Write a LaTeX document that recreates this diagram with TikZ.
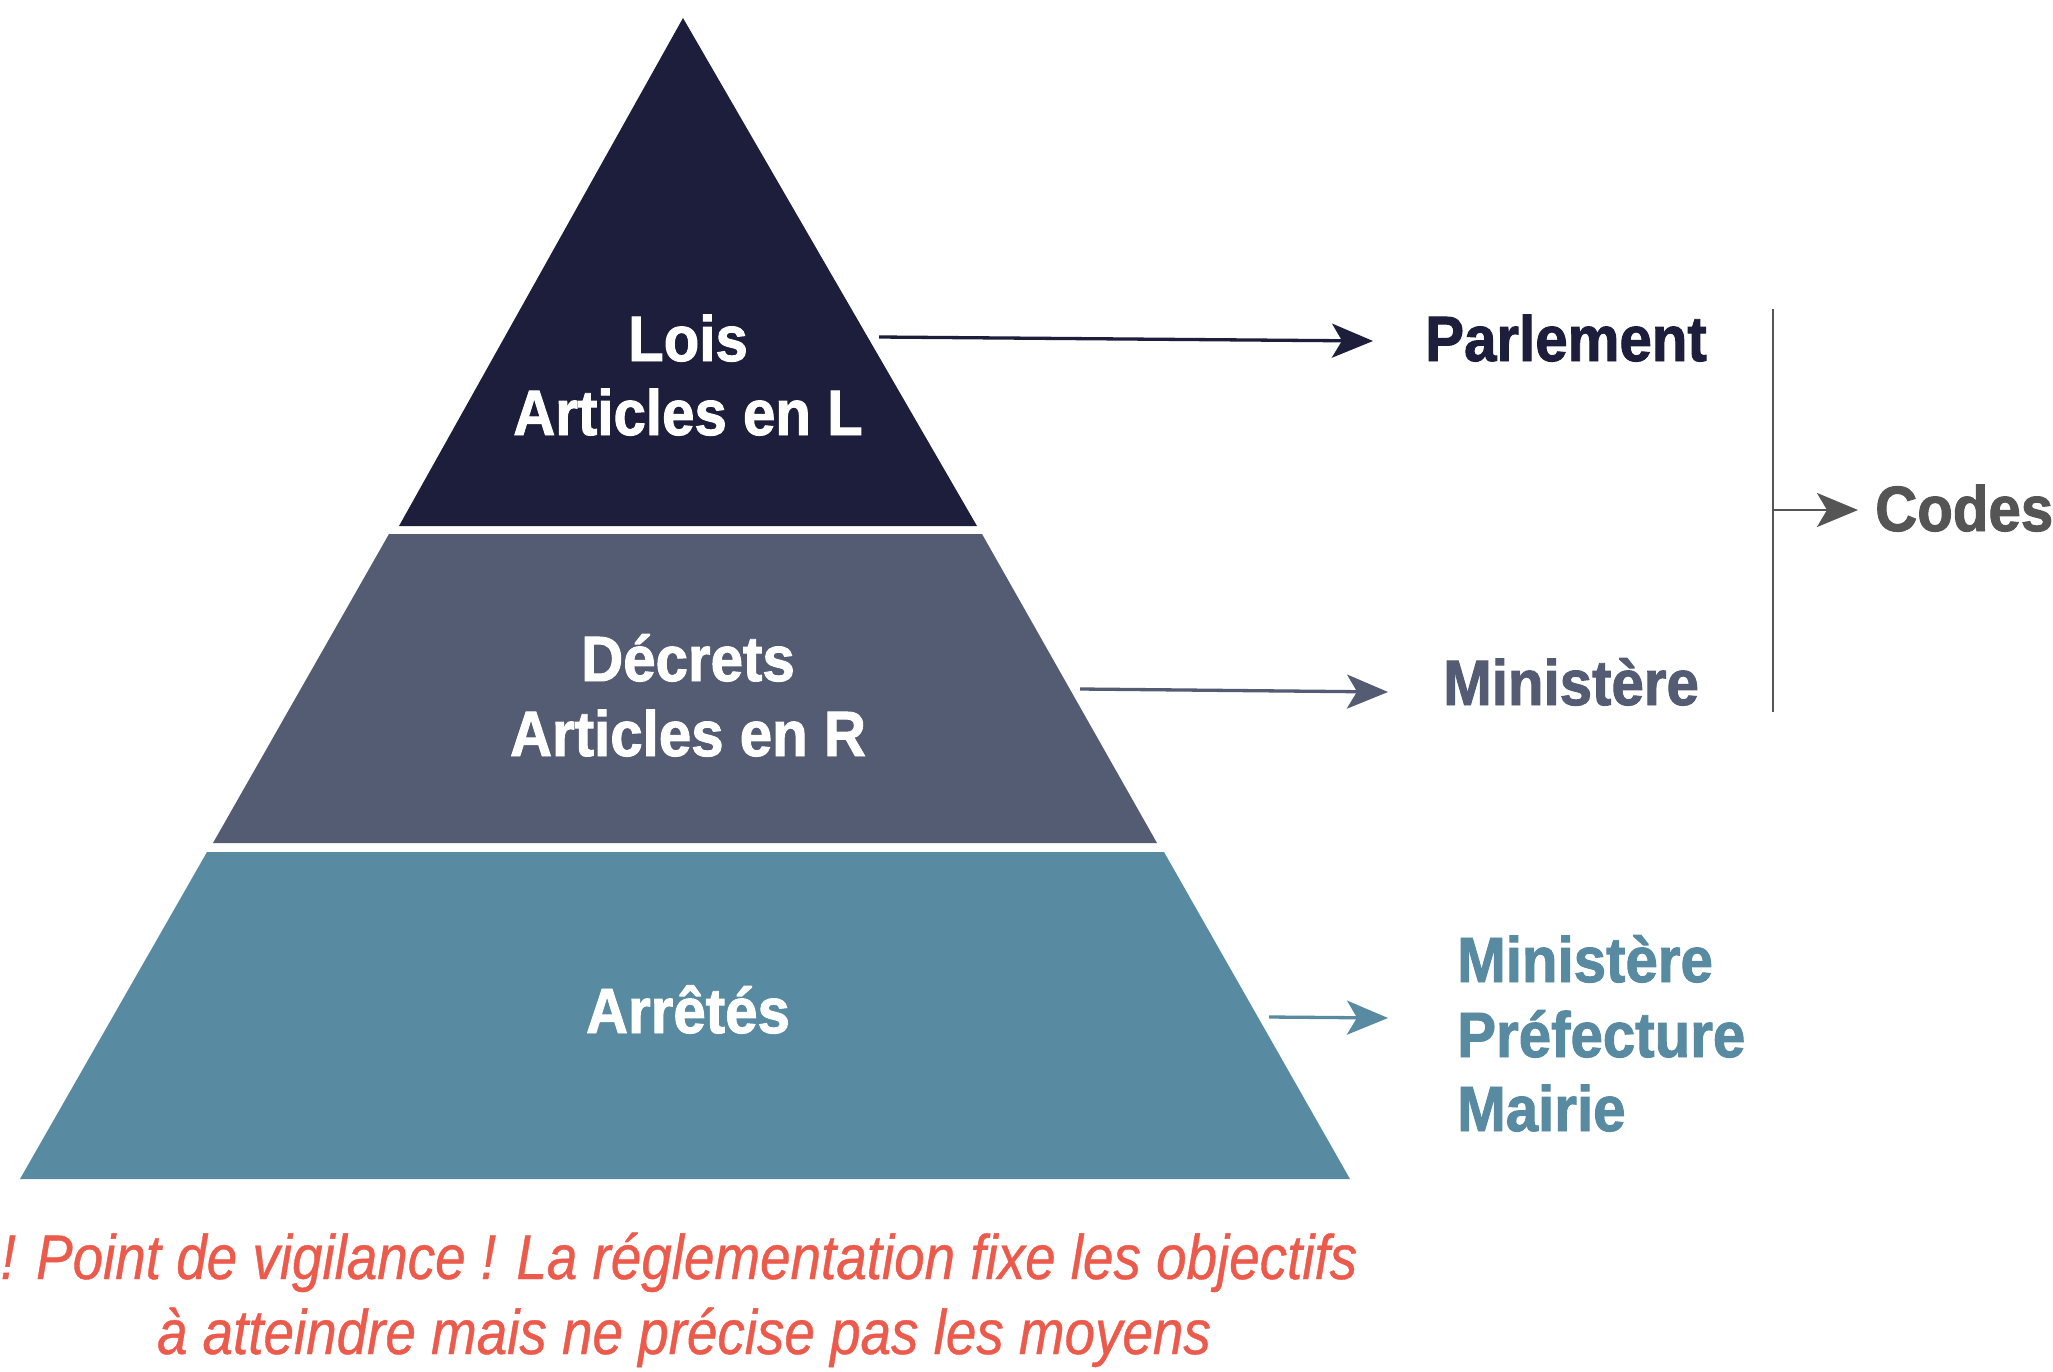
\documentclass[tikz,border=0pt]{standalone}
\usepackage{fontspec}
\setmainfont{Liberation Sans}
\newfontfamily\boldf{Liberation Sans}[FakeStretch=0.91,FakeBold=1.5]
\newfontfamily\itf{Liberation Sans}[FakeStretch=0.87,FakeBold=0.6]
\usetikzlibrary{arrows.meta}
\definecolor{navy}{HTML}{1C1E3C}
\definecolor{slate}{HTML}{545C74}
\definecolor{teal}{HTML}{588BA1}
\definecolor{warn}{HTML}{EC5A4B}
\definecolor{grayc}{HTML}{555555}
\tikzset{
  lbl/.style={font=\boldf\bfseries\fontsize{64}{75}\selectfont, anchor=base, inner sep=0pt},
  side/.style={font=\boldf\bfseries\fontsize{64}{75}\selectfont, anchor=base west, inner sep=0pt},
  note/.style={font=\itf\itshape\fontsize{63}{75}\selectfont, text=warn, anchor=base, inner sep=0pt},
  conn/.style={line width=3.3pt, -{Stealth[length=41pt,width=34pt,inset=10pt]}},
}
\begin{document}
\begin{tikzpicture}[x=1pt,y=-1pt]
\useasboundingbox (0,0) rectangle (2053,1371);
\fill[white] (0,0) rectangle (2053,1371);
% pyramid tiers
\fill[navy]  (683,18) -- (977,526) -- (399,526) -- cycle;
\fill[slate] (389,534) -- (982,534) -- (1157,843) -- (213,843) -- cycle;
\fill[teal]  (207,852) -- (1164,852) -- (1350,1179) -- (20,1179) -- cycle;
% tier labels
\node[lbl, text=white] (lois)  at (688,361) {Lois};
\node[lbl, text=white] (artL)  at (688,435) {Articles en L};
\node[lbl, text=white] (decr)  at (688,681) {Décrets};
\node[lbl, text=white] (artR)  at (688,756) {Articles en R};
\node[lbl, text=white] (arr)   at (688,1033) {Arrêtés};
% side labels
\node[side, text=navy]  (parl)  at (1425,361) {Parlement};
\node[side, text=slate] (min1)  at (1443,705) {Ministère};
\node[side, text=grayc] (codes) at (1875,531) {Codes};
\node[side, text=teal]  (min2)  at (1457,982) {Ministère};
\node[side, text=teal]  (pref)  at (1457,1057) {Préfecture};
\node[side, text=teal]  (mair)  at (1457,1131) {Mairie};
% connectors
\coordinate (a1s) at (879,337);  \coordinate (a1e) at (1373,341);
\coordinate (a2s) at (1080,689); \coordinate (a2e) at (1388,692);
\coordinate (a3s) at (1269,1017); \coordinate (a3e) at (1388,1018);
\draw[conn, navy]  (a1s) -- (a1e);
\draw[conn, slate] (a2s) -- (a2e);
\draw[conn, teal]  (a3s) -- (a3e);
% bracket to codes
\coordinate (vt) at (1773,309); \coordinate (vb) at (1773,712);
\coordinate (vm) at (1773,510); \coordinate (ce) at (1858,510);
\draw[grayc, line width=2.7pt] (vt) -- (vb);
\draw[conn, grayc, line width=2.7pt] (vm) -- (ce);
% note
\node[note] (note1) at (679,1279) {! Point de vigilance ! La réglementation fixe les objectifs};
\node[note] (note2) at (684,1354) {à atteindre mais ne précise pas les moyens};
\end{tikzpicture}
\end{document}
